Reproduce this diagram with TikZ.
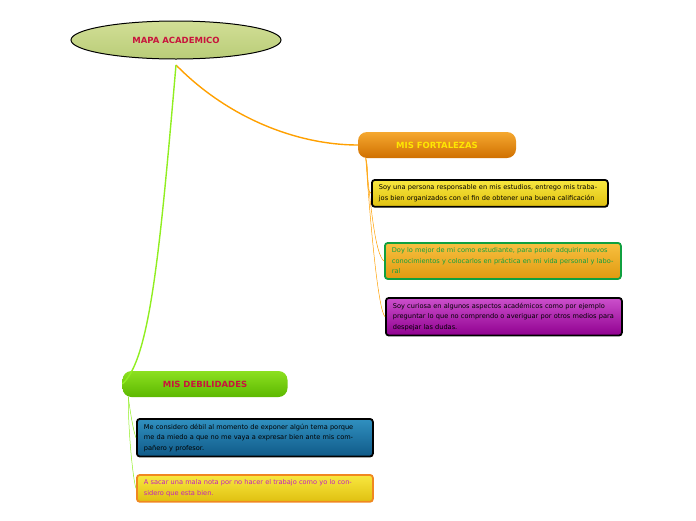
\documentclass[tikz,border=0pt]{standalone}
\usepackage{fontspec}
\setmainfont{DejaVu Sans}
\usetikzlibrary{shapes.geometric}
\definecolor{ttl}{HTML}{C8143C}
\definecolor{rootA}{HTML}{D2DE96}
\definecolor{rootB}{HTML}{B9CD78}
\definecolor{orA}{HTML}{F5A830}
\definecolor{orB}{HTML}{D07000}
\definecolor{grA}{HTML}{8CE020}
\definecolor{grB}{HTML}{5CB800}
\definecolor{yeA}{HTML}{F8E840}
\definecolor{yeB}{HTML}{E0C010}
\definecolor{oyA}{HTML}{F8C040}
\definecolor{oyB}{HTML}{E09A10}
\definecolor{puA}{HTML}{CC50CC}
\definecolor{puB}{HTML}{900090}
\definecolor{blA}{HTML}{3090C0}
\definecolor{blB}{HTML}{105A88}
\definecolor{brdgreen}{HTML}{10A040}
\definecolor{brdorange}{HTML}{F08820}
\definecolor{mag}{HTML}{C020C0}
\definecolor{linkor}{HTML}{FFA000}
\definecolor{linkgr}{HTML}{90EE20}
\tikzset{
 y=-1pt,x=1pt,
 topic/.style={rounded corners=9pt,minimum height=26pt,font=\bfseries\fontsize{8.5}{10}\selectfont,inner sep=0pt},
 leaf/.style={rounded corners=3pt,line width=1.8pt,anchor=north west,text width=222pt,inner xsep=7pt,inner ysep=5pt,align=left,font=\fontsize{6.6}{10.5}\selectfont},
}
\begin{document}
\begin{tikzpicture}
\useasboundingbox (0,0) rectangle (696,520);
\node[ellipse,draw=black,line width=1pt,minimum width=210pt,minimum height=38pt,top color=rootA,bottom color=rootB,text=ttl,font=\bfseries\fontsize{8.5}{10}\selectfont] (root) at (176,40) {MAPA ACADEMICO};
\node[topic,minimum width=158pt,top color=orA,bottom color=orB,text=yellow!90!orange] (fort) at (437,145) {MIS FORTALEZAS};
\node[topic,minimum width=165pt,top color=grA,bottom color=grB,text=ttl] (deb) at (205,384) {MIS DEBILIDADES};
\node[leaf,draw=black,top color=yeA,bottom color=yeB] (f1) at (371,179) {Soy una persona responsable en mis estudios, entrego mis trabajos bien organizados con el fin de obtener una buena calificación};
\node[leaf,draw=brdgreen,top color=oyA,bottom color=oyB,text=brdgreen] (f2) at (384,242) {Doy lo mejor de mi como estudiante, para poder adquirir nuevos conocimientos y colocarlos en práctica en mi vida personal y laboral};
\node[leaf,draw=black,top color=puA,bottom color=puB] (f3) at (385,297) {Soy curiosa en algunos aspectos académicos como por ejemplo preguntar lo que no comprendo o averiguar por otros medios para despejar las dudas.};
\node[leaf,draw=black,top color=blA,bottom color=blB] (d1) at (136,418) {Me considero débil al momento de exponer algún tema porque me da miedo a que no me vaya a expresar bien ante mis compañero y profesor.};
\node[leaf,draw=brdorange,top color=yeA,bottom color=yeB,text=mag] (d2) at (136,474) {A sacar una mala nota por no hacer el trabajo como yo lo considero que esta bien.};
\coordinate (rb) at (176,65);
\draw[linkor,line width=1.4pt] (rb) .. controls (230,120) and (300,145) .. (fort.west);
\draw[linkgr,line width=1.4pt] (rb) .. controls (160,250) and (150,360) .. (deb.west);
\draw[linkor,line width=0.5pt] (fort.south west) ++(8,0) coordinate (fs) .. controls (370,175) and (365,190) .. (f1.west);
\draw[linkor,line width=0.5pt] (fs) .. controls (370,200) and (375,255) .. (f2.west);
\draw[linkor,line width=0.5pt] (fs) .. controls (370,220) and (378,310) .. (f3.west);
\draw[linkgr,line width=0.5pt] (deb.south west) ++(6,0) coordinate (ds) .. controls (130,410) and (133,430) .. (d1.west);
\draw[linkgr,line width=0.5pt] (ds) .. controls (128,430) and (133,480) .. (d2.west);
\end{tikzpicture}
\end{document}
